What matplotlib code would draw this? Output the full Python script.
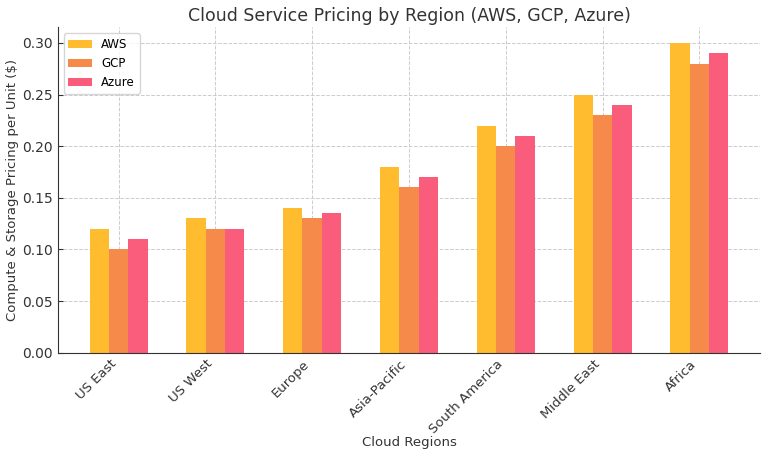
import matplotlib
matplotlib.use("Agg")
import matplotlib.pyplot as plt
import numpy as np

regions = ["US East", "US West", "Europe", "Asia-Pacific", "South America", "Middle East", "Africa"]
aws = [0.12, 0.13, 0.14, 0.18, 0.22, 0.25, 0.30]
gcp = [0.10, 0.12, 0.13, 0.16, 0.20, 0.23, 0.28]
azure = [0.11, 0.12, 0.135, 0.17, 0.21, 0.24, 0.29]

fig, ax = plt.subplots(figsize=(7.68, 4.58), dpi=100)
x = np.arange(len(regions))
w = 0.2
ax.bar(x - w, aws, w, label="AWS", color="#FFBC2E")
ax.bar(x, gcp, w, label="GCP", color="#F58A4B")
ax.bar(x + w, azure, w, label="Azure", color="#FA5D7B")

ax.set_title("Cloud Service Pricing by Region (AWS, GCP, Azure)", fontsize=12.5, color="#333333", pad=5)
ax.set_xlabel("Cloud Regions", fontsize=9.5, color="#333333", labelpad=0)
ax.set_ylabel("Compute & Storage Pricing per Unit ($)", fontsize=9.5, color="#333333", labelpad=2)
ax.set_xticks(x)
ax.set_xticklabels(regions, rotation=45, ha="right", fontsize=9.5)
ax.tick_params(direction="in", colors="#333333", labelsize=10)
ax.tick_params(axis="x", labelsize=9.5)
ax.grid(True, linestyle="--", color="#cccccc", linewidth=0.7)
ax.set_axisbelow(True)
for s in ["top", "right"]:
    ax.spines[s].set_visible(False)
for s in ["left", "bottom"]:
    ax.spines[s].set_color("#333333")
ax.legend(loc="upper left", fontsize=8.5)
fig.subplots_adjust(left=0.075, right=0.99, top=0.94, bottom=0.23)
fig.savefig("out.png")
